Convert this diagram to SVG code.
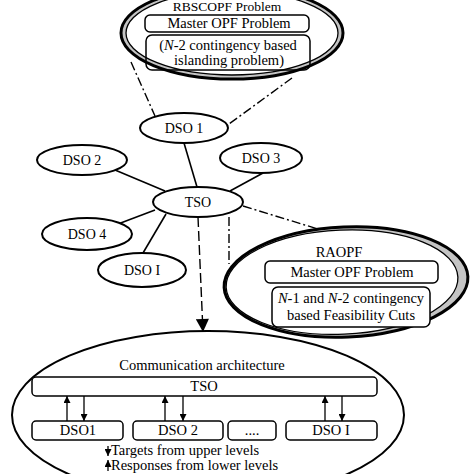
<svg xmlns="http://www.w3.org/2000/svg" width="474" height="474" viewBox="0 0 474 474">
<style>
text{font-family:"Liberation Serif","Times New Roman",serif;font-size:14.5px;fill:#000;text-anchor:middle}
.lbl{font-size:14px}
.node{fill:#fff;stroke:#000;stroke-width:2}
.box{fill:#fff;stroke:#000;stroke-width:1.5}
.outer{fill:#c4c4c4;stroke:#000;stroke-width:3}
.inner{fill:#fff;stroke:#000;stroke-width:1.3}
.solid{stroke:#000;stroke-width:1.6;fill:none}
.dd{stroke:#000;stroke-width:1.4;fill:none;stroke-dasharray:9 3 2 3}
.dash{stroke:#000;stroke-width:1.4;fill:none;stroke-dasharray:10 4}
.ar{stroke:#000;stroke-width:1.3;fill:none}
</style>
<defs>
<marker id="big" viewBox="0 0 10 10" refX="10" refY="5" markerWidth="14" markerHeight="13" markerUnits="userSpaceOnUse" orient="auto"><path d="M0,0 L10,5 L0,10 z" fill="#000"/></marker>
<marker id="sm" viewBox="0 0 10 10" refX="10" refY="5" markerWidth="8" markerHeight="7" markerUnits="userSpaceOnUse" orient="auto"><path d="M0,0 L10,5 L0,10 z" fill="#000"/></marker>
</defs>
<rect width="474" height="474" fill="#fff"/>

<g id="connectors">
<line class="dd" x1="131" y1="62" x2="155" y2="116"/>
<line class="dd" x1="292" y1="78" x2="229" y2="124"/>
<line class="solid" x1="184" y1="143" x2="197" y2="187"/>
<line class="solid" x1="115" y1="170" x2="165" y2="191"/>
<line class="solid" x1="263" y1="173" x2="230" y2="191"/>
<line class="solid" x1="118" y1="224" x2="155" y2="210"/>
<line class="solid" x1="143" y1="253" x2="166" y2="214"/>
<line class="dd" x1="243" y1="206" x2="318" y2="229"/>
<line class="dd" x1="229" y1="217" x2="229" y2="264"/>
<line class="dash" x1="198" y1="217" x2="203" y2="332" marker-end="url(#big)"/>
<line class="ar" x1="67" y1="421" x2="67" y2="396" marker-end="url(#sm)"/>
<line class="ar" x1="84" y1="396" x2="84" y2="421" marker-end="url(#sm)"/>
<line class="ar" x1="165" y1="421" x2="165" y2="396" marker-end="url(#sm)"/>
<line class="ar" x1="183" y1="396" x2="183" y2="421" marker-end="url(#sm)"/>
<line class="ar" x1="325" y1="421" x2="325" y2="396" marker-end="url(#sm)"/>
<line class="ar" x1="342" y1="396" x2="342" y2="421" marker-end="url(#sm)"/>
</g>

<g id="rbscopf">
<ellipse class="outer" cx="232" cy="33" rx="111" ry="46"/>
<ellipse class="inner" cx="232" cy="33" rx="106" ry="42"/>
<text x="227" y="11" style="font-size:13.5px">RBSCOPF Problem</text>
<rect class="box" x="145" y="15" width="164" height="17" rx="5" style="fill:none"/>
<text x="229" y="28">Master OPF Problem</text>
<rect class="box" x="146" y="35" width="164" height="35" rx="6" style="fill:none"/>
<text x="228" y="50">(<tspan font-style="italic">N</tspan>-2 contingency based</text>
<text x="229" y="65">islanding problem)</text>
</g>

<g id="dso1"><ellipse class="node" cx="184" cy="128" rx="44" ry="15"/><text class="lbl" x="184" y="133">DSO 1</text></g>
<g id="dso2"><ellipse class="node" cx="82" cy="160" rx="45" ry="15"/><text class="lbl" x="82" y="165">DSO 2</text></g>
<g id="dso3"><ellipse class="node" cx="261" cy="158" rx="41" ry="15"/><text class="lbl" x="261" y="163">DSO 3</text></g>
<g id="tso"><ellipse class="node" cx="198" cy="202" rx="45" ry="15"/><text class="lbl" x="198" y="207">TSO</text></g>
<g id="dso4"><ellipse class="node" cx="87" cy="234" rx="45" ry="16"/><text class="lbl" x="87" y="239">DSO 4</text></g>
<g id="dsoI"><ellipse class="node" cx="142" cy="270" rx="44" ry="17"/><text class="lbl" x="142" y="275">DSO I</text></g>

<g id="raopf">
<ellipse class="outer" cx="346" cy="282" rx="122" ry="55" transform="rotate(-2.5 346 282)"/>
<ellipse class="inner" cx="342" cy="282" rx="116" ry="52" transform="rotate(-2.5 346 282)"/>
<text x="339" y="257">RAOPF</text>
<rect class="box" x="265" y="261" width="173" height="22" rx="5"/>
<text x="352" y="277">Master OPF Problem</text>
<rect class="box" x="272" y="287" width="158" height="40" rx="6"/>
<text x="351" y="303"><tspan font-style="italic">N</tspan>-1 and <tspan font-style="italic">N</tspan>-2 contingency</text>
<text x="351" y="320">based  Feasibility Cuts</text>
</g>

<g id="comm">
<ellipse cx="208" cy="415" rx="196" ry="84" fill="none" stroke="#000" stroke-width="2"/>
<text x="202" y="370">Communication architecture</text>
<g id="comm-tso"><rect class="box" x="32" y="377" width="345" height="19" rx="4"/><text x="204" y="391">TSO</text></g>
<g id="comm-dso1"><rect class="box" x="32" y="421" width="91" height="19" rx="4"/><text x="78" y="435">DSO1</text></g>
<g id="comm-dso2"><rect class="box" x="133" y="421" width="90" height="19" rx="4"/><text x="178" y="435">DSO 2</text></g>
<g id="comm-dots"><rect class="box" x="228" y="421" width="48" height="19" rx="4"/><text x="252" y="435">....</text></g>
<g id="comm-dsoI"><rect class="box" x="286" y="421" width="91" height="19" rx="4"/><text x="331" y="435">DSO I</text></g>
<g id="legend">
<line class="ar" x1="108" y1="446" x2="108" y2="456" marker-end="url(#sm)"/>
<text x="111" y="455" style="text-anchor:start">Targets from upper levels</text>
<line class="ar" x1="108" y1="471" x2="108" y2="460" marker-end="url(#sm)"/>
<text x="111" y="470" style="text-anchor:start">Responses from lower levels</text>
</g>
</g>
</svg>
